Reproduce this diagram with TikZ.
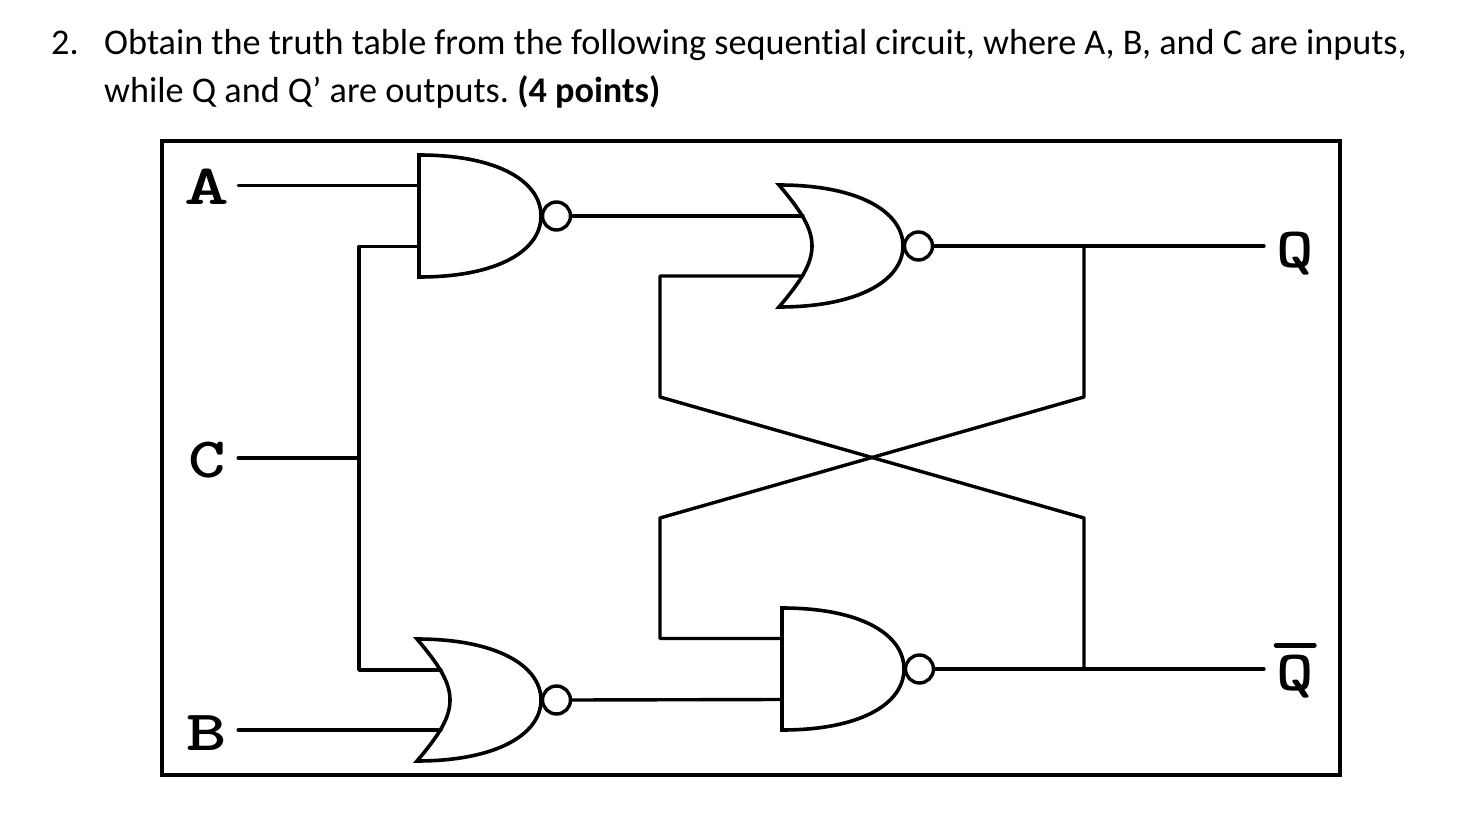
\documentclass[tikz,border=0pt]{standalone}
\usepackage{fontspec}
\setmainfont{Carlito}[Ligatures=NoCommon]
\newcommand{\lbltext}[2][1.25]{\scalebox{#1}[1]{\ttfamily\bfseries #2}}
\tikzset{
  wire/.style={line width=3.4pt,line cap=round,line join=round},
  gatebody/.style={draw,line width=3.6pt,line join=miter,miter limit=20},
  bubble/.style={circle,draw,line width=3.4pt,minimum size=28pt,inner sep=0pt,outer sep=0pt},
  lbl/.style={font=\fontsize{57}{57}\selectfont,inner sep=0pt,minimum width=62pt},
  head/.style={font=\fontsize{36.2}{40}\selectfont\frenchspacing,anchor=base west,inner sep=0pt},
  pics/nandgate/.style={code={
    \path[gatebody] (0,-61) .. controls (80,-61) and (122,-34) .. (122,0)
      .. controls (122,34) and (80,61) .. (0,61) -- cycle;
    \node[bubble] (-out) at (137.5,0) {};
    \coordinate (-in1) at (0,-30.5);
    \coordinate (-in2) at (0,30.5);
  }},
  pics/norgate/.style={code={
    \path[gatebody] (0,-61) .. controls (80,-61) and (124,-34) .. (124,0)
      .. controls (124,34) and (80,61) .. (0,61)
      .. controls (22,35) and (33,18) .. (33,0)
      .. controls (33,-18) and (22,-35) .. (0,-61) -- cycle;
    \node[bubble] (-out) at (139.5,0) {};
    \coordinate (-in1) at (24,-30);
    \coordinate (-in2) at (24,30);
  }}
}
\begin{document}
\begin{tikzpicture}[x=1pt,y=-1pt]
\useasboundingbox (0,0) rectangle (1460,824);

\node[head] (num) at (51,55) {2.};
\node[head] (line1) at (104,55) {Obtain the truth table from the following sequential circuit, where A, B, and C are inputs,};
\node[head] (line2) at (104,103) {while Q and Q’ are outputs. \textbf{(4 points)}};

\draw[line width=4pt] (162,141.5) rectangle (1340,775);

\pic (g1) at (419,216) {nandgate};
\pic (g2) at (779,246) {norgate};
\pic (g3) at (417,700) {norgate};
\pic (g4) at (782,669) {nandgate};

\node[lbl] (nA) at (207,187) {\lbltext[1.5]{A}};
\node[lbl] (nC) at (207,460) {\lbltext{C}};
\node[lbl] (nB) at (207,733) {\lbltext[1.35]{B}};
\node[lbl,anchor=west] (nQ) at (1264,254) {\lbltext{Q}};
\node[lbl,anchor=west] (nQb) at (1264,677) {\lbltext{Q}};

\coordinate (bus) at (359,458);
\coordinate (xTL) at (660,397);
\coordinate (xTR) at (1084,397);
\coordinate (xBL) at (660,518);
\coordinate (xBR) at (1084,518);

\draw[wire] (nA.east |- g1-in1) -- (g1-in1);
\draw[wire] (nC.east |- bus) -- (bus);
\draw[wire] (nB.east |- g3-in2) -- (g3-in2);
\draw[wire] (g1-in2) -| (bus) |- (g3-in1);
\draw[wire] (g1-out.east) -- (g2-in1);
\draw[wire] (g3-out.east) -- (g4-in2);
\draw[wire] (g2-in2) -| (xTL) -- (xBR) -- (xBR |- g4-out.east);
\draw[wire] (g4-in1) -| (xBL) -- (xTR) -- (xTR |- g2-out.east);
\draw[wire] (g2-out.east) -- (g2-out.east -| nQ.west);
\draw[wire] (g4-out.east) -- (g4-out.east -| nQb.west);
\draw[line width=5pt,line cap=round] (nQb.north) ++(0,-10) ++(-19,0) -- ++(38,0);
\end{tikzpicture}
\end{document}
